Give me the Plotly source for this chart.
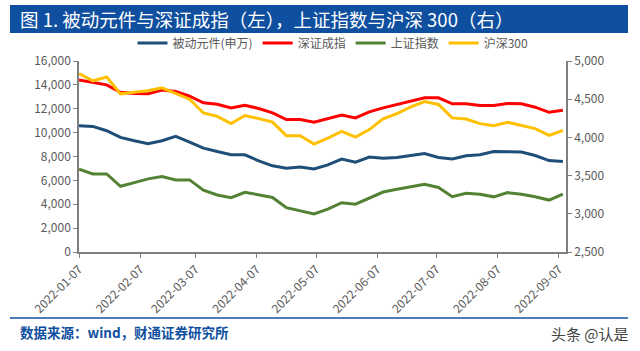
import plotly.graph_objects as go
import pandas as pd

dates = pd.date_range("2022-01-07", periods=36, freq="7D").strftime("%Y-%m-%d").tolist()

passive = [10580, 10520, 10160, 9600, 9320, 9070, 9320, 9680, 9210, 8700, 8420, 8140,
           8140, 7640, 7220, 7020, 7110, 6960, 7300, 7780, 7530, 7950, 7860, 7920,
           8080, 8250, 7920, 7800, 8060, 8140, 8420, 8370, 8370, 8080, 7660, 7580]
szci = [14400, 14200, 14000, 13380, 13280, 13250, 13560, 13450, 13050, 12500, 12380, 12075,
        12300, 12020, 11660, 11100, 11090, 10880, 11150, 11480, 11230, 11740, 12075, 12355,
        12690, 12920, 12920, 12410, 12410, 12270, 12270, 12440, 12410, 12130, 11700, 11875]
shci = [3584, 3522, 3522, 3360, 3408, 3457, 3487, 3444, 3444, 3310, 3246, 3211,
        3282, 3250, 3214, 3080, 3040, 2998, 3062, 3145, 3126, 3203, 3285, 3321,
        3355, 3385, 3345, 3224, 3268, 3255, 3222, 3277, 3255, 3224, 3180, 3257]
csi300 = [4834, 4740, 4790, 4570, 4590, 4610, 4650, 4580, 4500, 4320, 4275, 4180,
          4286, 4246, 4200, 4023, 4023, 3913, 3990, 4080, 4005, 4102, 4242, 4312,
          4400, 4470, 4431, 4255, 4240, 4180, 4154, 4198, 4158, 4115, 4027, 4090]

names = ["被动元件(申万)", "深证成指", "上证指数", "沪深300"]
tick_dates = ["2022-01-07", "2022-02-07", "2022-03-07", "2022-04-07", "2022-05-07",
              "2022-06-07", "2022-07-07", "2022-08-07", "2022-09-07"]

title_text = "图 1. 被动元件与深证成指（左），上证指数与沪深 300（右）"
source_text = "数据来源：wind，财通证券研究所"
mark_text = "头条 @认是"

FONT = "Noto Sans CJK SC"
GRAY = "#595959"
BLUE_BAR = "#0f4fa0"

fig = go.Figure()
fig.add_trace(go.Scatter(x=dates, y=passive, name=names[0], mode="lines",
                         line=dict(color="#1f4e79", width=3)))
fig.add_trace(go.Scatter(x=dates, y=szci, name=names[1], mode="lines",
                         line=dict(color="#ff0000", width=3)))
fig.add_trace(go.Scatter(x=dates, y=shci, name=names[2], mode="lines", yaxis="y2",
                         line=dict(color="#548235", width=3)))
fig.add_trace(go.Scatter(x=dates, y=csi300, name=names[3], mode="lines", yaxis="y2",
                         line=dict(color="#ffc000", width=3)))

L, R, T, B = 79, 566, 61, 252
W, H = 640, 351
pw, ph = R - L, B - T


def px(x):
    return (x - L) / pw


def py(y):
    return (B - y) / ph


fig.update_layout(
    width=W, height=H,
    margin=dict(l=L, r=W - R, t=T, b=H - B, pad=0),
    paper_bgcolor="white", plot_bgcolor="white",
    font=dict(family=FONT, size=12, color=GRAY),
    showlegend=True,
    legend=dict(orientation="h", x=px(333), xanchor="center", y=py(43), yanchor="middle",
                font=dict(size=12, color=GRAY), itemwidth=30, tracegroupgap=0,
                bgcolor="rgba(0,0,0,0)"),
    xaxis=dict(type="date", range=["2022-01-07", "2022-09-10 14:00"],
               tickvals=tick_dates, ticktext=tick_dates, tickangle=-45,
               tickfont=dict(size=12, color=GRAY),
               showline=True, linecolor="#7f7f7f", linewidth=1.5,
               ticks="outside", ticklen=4, tickcolor="#7f7f7f",
               showgrid=False, zeroline=False),
    yaxis=dict(range=[0, 16000], dtick=2000, tickformat=",",
               tickfont=dict(size=12, color=GRAY),
               showline=True, linecolor="#7f7f7f", linewidth=1.5,
               ticks="outside", ticklen=4, tickcolor="#7f7f7f",
               showgrid=False, zeroline=False),
    yaxis2=dict(range=[2500, 5000], dtick=500, tickformat=",", overlaying="y", side="right",
                tickfont=dict(size=12, color=GRAY),
                showline=True, linecolor="#7f7f7f", linewidth=1.5,
                ticks="outside", ticklen=4, tickcolor="#7f7f7f",
                showgrid=False, zeroline=False),
    shapes=[
        dict(type="rect", xref="paper", yref="paper", x0=px(10), x1=px(628),
             y0=py(33), y1=py(5), fillcolor=BLUE_BAR, line=dict(width=0), layer="below"),
        dict(type="line", xref="paper", yref="paper", x0=px(10), x1=px(628),
             y0=py(318), y1=py(318), line=dict(color=BLUE_BAR, width=1.5)),
    ],
    annotations=[
        dict(text=title_text, xref="paper", yref="paper", x=px(18), y=py(19),
             xanchor="left", yanchor="middle", showarrow=False,
             font=dict(size=18.5, color="white", family=FONT)),
        dict(text="<b>" + source_text + "</b>", xref="paper", yref="paper", x=px(18), y=py(332),
             xanchor="left", yanchor="middle", showarrow=False,
             font=dict(size=13.5, color=BLUE_BAR, family=FONT)),
        dict(text=mark_text, xref="paper", yref="paper", x=px(631), y=py(333),
             xanchor="right", yanchor="middle", showarrow=False,
             font=dict(size=15, color="#444444", family=FONT)),
    ],
)

fig.write_html("out.html")
